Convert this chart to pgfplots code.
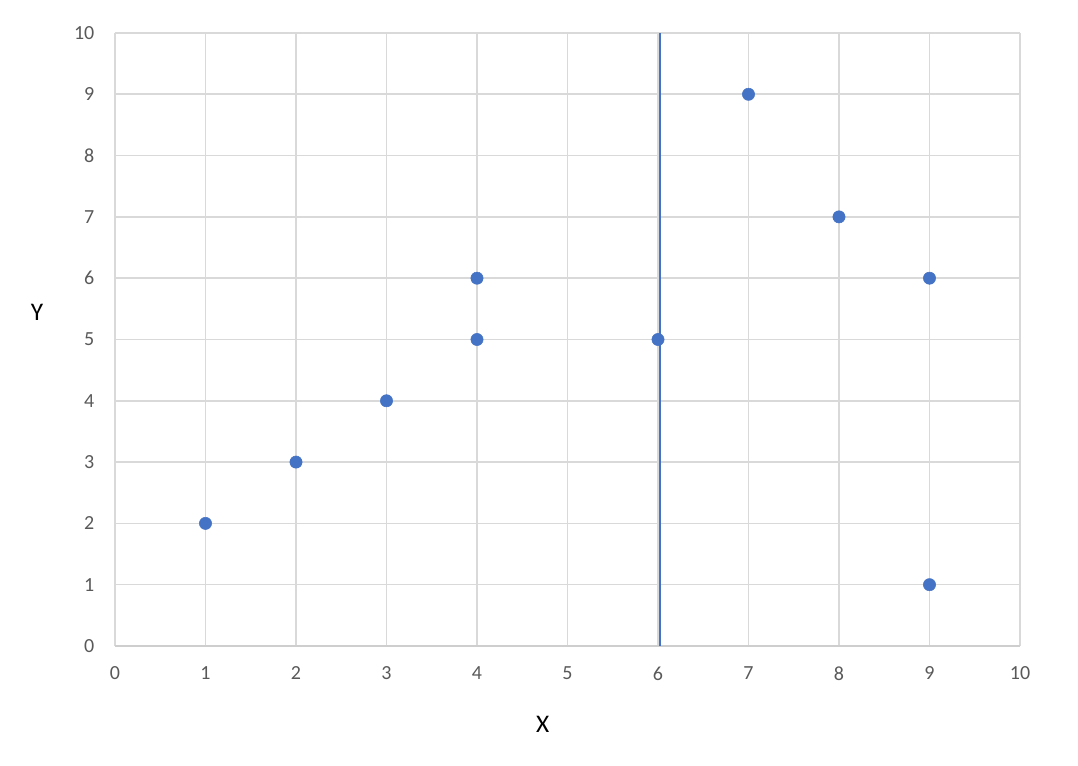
\documentclass[border=0pt]{standalone}
\usepackage{pgfplots}
\pgfplotsset{compat=1.18}
\usepackage{fontspec}
\setmainfont{Carlito}
\definecolor{msblue}{HTML}{4472C4}
\definecolor{gridgray}{HTML}{D9D9D9}
\definecolor{ticktext}{HTML}{595959}
\begin{document}
\begin{tikzpicture}[x=0.75pt,y=0.75pt]
\useasboundingbox (-115,-120) rectangle (963,646);
\begin{axis}[
    at={(0,0)}, anchor=origin,
    scale only axis,
    width=678.75pt, height=459.75pt,
    xmin=0, xmax=10, ymin=0, ymax=10,
    xtick={0,...,10}, ytick={0,...,10},
    major tick length=0pt,
    grid=major,
    major grid style={gridgray, line width=1.2pt},
    axis line style={draw=none},
    axis x line*=bottom,
    axis y line*=left,
    tick label style={font=\fontsize{15}{17}\selectfont, text=ticktext},
    /pgf/number format/assume math mode=true,
    xticklabel style={yshift=-12pt},
    yticklabel style={xshift=-12pt},
    xlabel={X}, ylabel={Y},
    label style={font=\fontsize{19}{22}\selectfont},
    xlabel style={at={(axis description cs:0.4725,0)}, anchor=center, yshift=-59pt},
    ylabel style={at={(axis description cs:0,0.545)}, anchor=center, rotate=-90, xshift=-58.5pt},
    clip=false,
]
\draw[color=gridgray!80!black!60, line width=1.2pt] (axis cs:0,0) -- (axis cs:10,0);
\addplot[msblue, line width=1.5pt] coordinates {(6.02,0) (6.02,10)};
\addplot[only marks, mark=*, mark size=4.6pt, mark options={fill=msblue, draw=msblue}] coordinates {
    (1,2) (2,3) (3,4) (4,5) (4,6) (6,5) (7,9) (8,7) (9,6) (9,1)
};
\end{axis}
\end{tikzpicture}
\end{document}
